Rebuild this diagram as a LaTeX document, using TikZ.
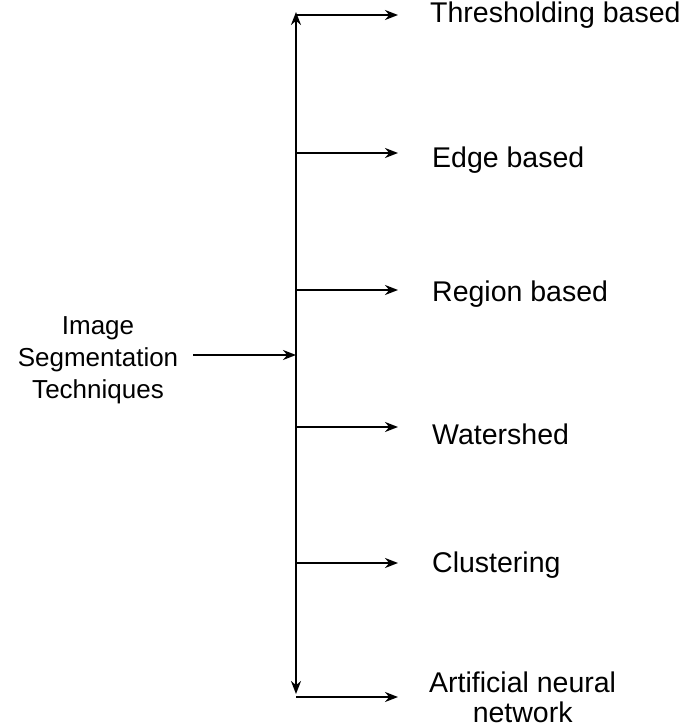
\documentclass[tikz,border=0pt]{standalone}
\usepackage{fontspec}
\setmainfont{Liberation Sans}
\usetikzlibrary{arrows.meta}
\begin{document}
\begin{tikzpicture}[x=1pt,y=-1pt,
    branch/.style={line width=2pt,-{Stealth[length=13pt,width=10pt]}},
    lbl/.style={anchor=west,font=\fontsize{28.5}{30}\selectfont,align=center,inner sep=0pt}]
\useasboundingbox (0,0) rectangle (685,727);
    \coordinate (mid) at (296,355);
    \draw[line width=2pt,{Stealth[length=13pt,width=10pt]}-{Stealth[length=13pt,width=10pt]}] (296,12) -- (296,694);
    \node[align=center,font=\fontsize{26}{32}\selectfont,inner sep=0pt] (tech) at (98,360) {Image\\Segmentation\\Techniques};
    \draw[branch] (193,355) -- (mid);
    \node[lbl] (thr) at (430,15) {Thresholding based};
    \node[lbl] (edge) at (432,160) {Edge based};
    \node[lbl] (reg) at (432,294) {Region based};
    \node[lbl] (wat) at (432,434) {Watershed};
    \node[lbl] (clu) at (432,565) {Clustering};
    \node[lbl] (ann) at (429,697) {Artificial neural\\network};
    \foreach \y in {15,153,290,427,563,697}
        \draw[branch] (296,\y) -- (398,\y);
\end{tikzpicture}
\end{document}
